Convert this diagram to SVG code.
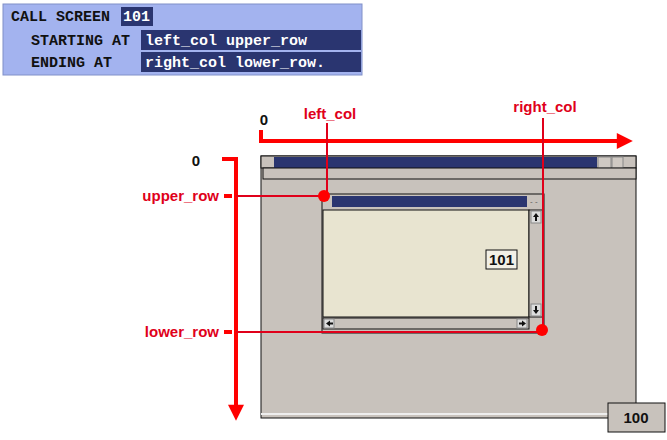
<svg xmlns="http://www.w3.org/2000/svg" width="667" height="440" viewBox="0 0 667 440">
<style>
.code{font-family:"Liberation Mono",monospace;font-weight:bold;font-size:15px}
.lbl{font-family:"Liberation Sans",Arial,sans-serif;font-weight:bold;font-size:15px;fill:#e0001a}
.ax{stroke:#ff0000;stroke-width:4;fill:none}
.ln{stroke:#e0001a;stroke-width:2;fill:none}
.num{font-family:"Liberation Sans",Arial,sans-serif;font-weight:bold;font-size:15px}
</style>
<defs>
<marker id="ah" viewBox="0 0 10 10" refX="2" refY="5" markerWidth="5" markerHeight="4" orient="auto"><path d="M0,0L10,5L0,10z" fill="#ff0000"/></marker>
</defs>
<g id="code">
<rect x="3" y="4" width="359" height="71" fill="#a3b3ef" stroke="#8090c8"/>
<rect x="121" y="7" width="32" height="19" fill="#2a3570"/>
<rect x="141" y="30" width="220" height="20" fill="#2a3570"/>
<rect x="141" y="52" width="220" height="20" fill="#2a3570"/>
<text x="11" y="21" class="code" fill="#111">CALL SCREEN</text>
<text x="123" y="21" class="code" fill="#fff">101</text>
<text x="31" y="45" class="code" fill="#111">STARTING AT</text>
<text x="145" y="45" class="code" fill="#fff" font-size="17">left_col upper_row</text>
<text x="31" y="67" class="code" fill="#111">ENDING   AT</text>
<text x="145" y="67" class="code" fill="#fff" font-size="17">right_col lower_row.</text>
</g>
<g id="screen100">
<rect x="261" y="156" width="375" height="262" fill="#c8c2bc" stroke="#111"/>
<rect x="261" y="156" width="375" height="12" fill="#c8c2bc" stroke="#111"/>
<rect x="274" y="157" width="323" height="11" fill="#2a3570"/>
<rect x="598" y="157" width="13" height="11" fill="#cfc9c3" stroke="#888"/>
<rect x="612" y="157" width="11" height="11" fill="#cfc9c3" stroke="#888"/>
<rect x="263" y="168" width="373" height="11" fill="#c8c2bc" stroke="#111"/>
<line x1="261" y1="414" x2="608" y2="414" stroke="#eee" stroke-width="2"/>
<rect x="608" y="403" width="57" height="29" fill="#c8c2bc" stroke="#111"/>
<text x="636" y="423" text-anchor="middle" class="num" fill="#111">100</text>
</g>
<g id="screen101">
<rect x="322" y="194" width="222" height="139" fill="#c8c2bc" stroke="#111"/>
<rect x="332" y="196" width="195" height="11" fill="#2a3570"/>
<text x="530" y="204" font-family="Liberation Sans,sans-serif" font-size="8" fill="#555">- -</text>
<rect x="323" y="210" width="206" height="107" fill="#e8e4d0" stroke="#111"/>
<rect x="529" y="210" width="14" height="107" fill="#c8c2bc" stroke="#111"/>
<rect x="531" y="211" width="10" height="12" fill="#ddd" stroke="#888"/>
<path d="M536,213l-3,4h2v4h2v-4h2z" fill="#111"/>
<rect x="531" y="304" width="10" height="12" fill="#ddd" stroke="#888"/>
<path d="M536,314l-3,-4h2v-4h2v4h2z" fill="#111"/>
<rect x="323" y="318" width="206" height="11" fill="#c8c2bc" stroke="#111"/>
<rect x="324" y="319" width="10" height="9" fill="#ddd" stroke="#888"/>
<path d="M326,323.5l4,-3v2h3v2h-3v2z" fill="#111"/>
<rect x="517" y="319" width="10" height="9" fill="#ddd" stroke="#888"/>
<path d="M526,323.5l-4,-3v2h-3v2h3v2z" fill="#111"/>
<rect x="486" y="250" width="31" height="19" fill="#f2f0e6" stroke="#111"/>
<text x="501.5" y="265" text-anchor="middle" class="num" font-size="16" fill="#111">101</text>
</g>
<g id="connectors">
<path class="ax" d="M261,130V141H620" marker-end="url(#ah)"/>
<path class="ax" d="M222,159H236V408" marker-end="url(#ah)"/>
<line class="ln" x1="327" y1="123" x2="327" y2="196"/>
<line class="ln" x1="543" y1="118" x2="543" y2="330"/>
<path class="ax" d="M224,196H232"/>
<line class="ln" x1="236" y1="196" x2="324" y2="196"/>
<path class="ax" d="M224,332H232"/>
<line class="ln" x1="236" y1="332" x2="542" y2="332"/>
<circle cx="324" cy="196" r="6" fill="#ff0000"/>
<circle cx="542" cy="330" r="6" fill="#ff0000"/>
</g>
<g id="labels">
<text x="264" y="125" class="num" fill="#111" font-size="14" text-anchor="middle">0</text>
<text x="196" y="166" class="num" fill="#111" font-size="14" text-anchor="middle">0</text>
<text x="330" y="119" class="lbl" text-anchor="middle">left_col</text>
<text x="545" y="112" class="lbl" text-anchor="middle">right_col</text>
<text x="219" y="201" class="lbl" text-anchor="end">upper_row</text>
<text x="219" y="337" class="lbl" text-anchor="end">lower_row</text>
</g>
</svg>
